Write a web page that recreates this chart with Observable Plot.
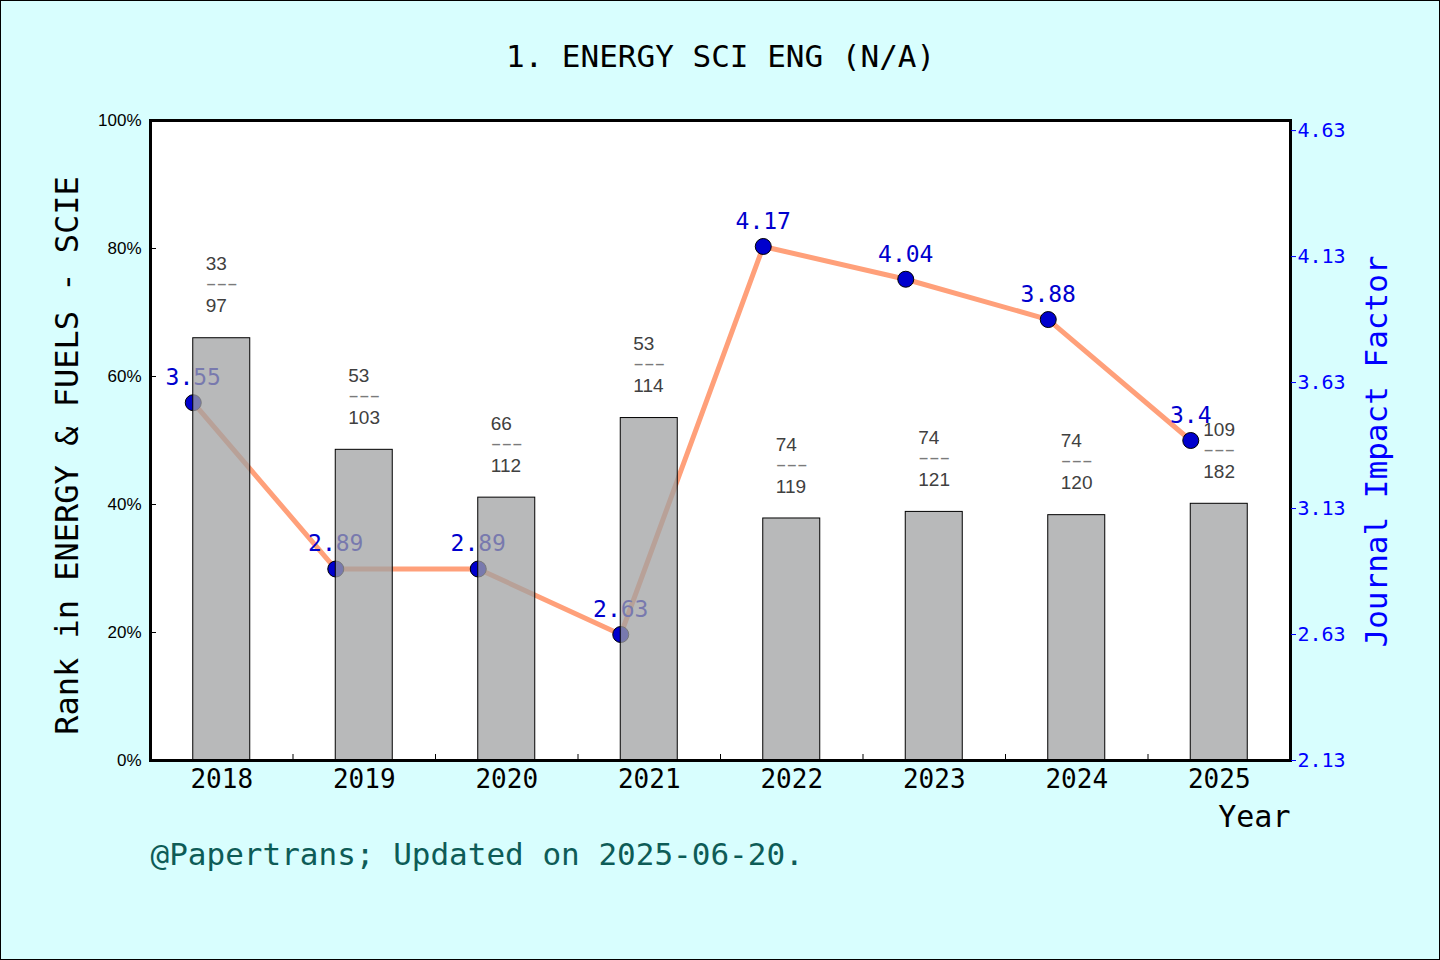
<!DOCTYPE html>
<html>
<head>
<meta charset="utf-8">
<script src="https://cdn.jsdelivr.net/npm/d3@7"></script>
<script src="https://cdn.jsdelivr.net/npm/@observablehq/plot@0.6"></script>
<style>
  html, body { margin: 0; padding: 0; background: #d8fefe; }
  #wrap { position: relative; width: 1440px; height: 960px; background: #d8fefe; overflow: hidden; }
  #wrap svg { position: absolute; left: 0; top: 0; background: transparent; }
  #border { position: absolute; left: 0; top: 0; width: 1440px; height: 960px; box-sizing: border-box; border: 1px solid #000; pointer-events: none; }
</style>
</head>
<body>
<div id="wrap"><div id="chart"></div><div id="border"></div></div>
<script>
// ---- data ----
const years = [2018, 2019, 2020, 2021, 2022, 2023, 2024, 2025];
const ranks = [33, 53, 66, 53, 74, 74, 74, 109];
const totals = [97, 103, 112, 114, 119, 121, 120, 182];
const impactFactors = [3.55, 2.89, 2.89, 2.63, 4.17, 4.04, 3.88, 3.4];
const leftTicks = [0, 20, 40, 60, 80, 100];
const rightTicks = [2.13, 2.63, 3.13, 3.63, 4.13, 4.63];
const ifAxisRange = [2.13, 4.67];
const titleText = "1. ENERGY SCI ENG (N/A)";
const leftTitle = "Rank in ENERGY & FUELS - SCIE";
const rightTitle = "Journal Impact Factor";
const xTitle = "Year";
const footer = "@Papertrans; Updated on 2025-06-20.";

// ---- derived table ----
const toY = v => (v - ifAxisRange[0]) / (ifAxisRange[1] - ifAxisRange[0]) * 100;
const fromY = p => ifAxisRange[0] + p / 100 * (ifAxisRange[1] - ifAxisRange[0]);
const table = years.map((year, i) => ({
  year,
  rank: ranks[i],
  total: totals[i],
  pct: (1 - ranks[i] / totals[i]) * 100,
  jif: impactFactors[i],
  jifY: toY(impactFactors[i])
}));

const mono = "DejaVu Sans Mono";
const sans = "Liberation Sans";
const step = 1140 / 8;
const half = step / 2 * 0.4; // offset from band center to bar's left edge
const boundary = step / 2;

const chart = Plot.plot({
  width: 1440,
  height: 960,
  marginLeft: 150,
  marginRight: 150,
  marginTop: 120,
  marginBottom: 200,
  style: { background: "transparent", fontFamily: sans },
  x: { type: "band", domain: years, paddingInner: 0.6, paddingOuter: 0.3, round: false },
  y: { domain: [0, 100] },
  marks: [
    Plot.frame({ fill: "white" }),
    Plot.line(table, { x: "year", y: "jifY", dx: -half, stroke: "#FFA07A", strokeWidth: 5 }),
    Plot.dot(table, { x: "year", y: "jifY", dx: -half, r: 8, fill: "#0000CD", stroke: "black", strokeWidth: 1 }),
    Plot.text(table, { x: "year", y: "jifY", dx: -half, dy: -25, text: d => String(d.jif), fill: "#0000CD", fontSize: 23, fontFamily: mono }),
    Plot.barY(table, { x: "year", y: "pct", fill: "rgb(160,161,163)", fillOpacity: 0.75, stroke: "black", strokeWidth: 1 }),
    Plot.text(table, { x: "year", y: "pct", dx: -16, dy: -74, text: d => String(d.rank), textAnchor: "start", fill: "#404040", fontSize: 19, fontFamily: sans }),
    Plot.text(table, { x: "year", y: "pct", dx: -16, dy: -54, text: () => "---", textAnchor: "start", fill: "#7a7a7a", fontSize: 19, fontFamily: sans }),
    Plot.text(table, { x: "year", y: "pct", dx: -16, dy: -32, text: d => String(d.total), textAnchor: "start", fill: "#404040", fontSize: 19, fontFamily: sans }),
    // inner ticks
    Plot.tickY(leftTicks, { y: d => d, insetRight: 1134, stroke: "black" }),
    Plot.tickX(years.slice(1), { x: d => d, dx: -boundary, insetTop: 634, stroke: "black" }),
    Plot.frame({ stroke: "black", strokeWidth: 3 }),
    // axes
    Plot.axisY(leftTicks, { anchor: "left", tickSize: 0, tickPadding: 9, tickFormat: d => d + "%", fontSize: 17, fontFamily: sans, label: null }),
    Plot.axisX({ tickSize: 0, tickPadding: 9, tickFormat: d => String(d), fontSize: 26, fontFamily: mono, label: null }),
    Plot.axisY(rightTicks.map(toY), { anchor: "right", tickSize: 5, tickPadding: 2, tickFormat: v => fromY(v).toFixed(2), color: "#0000FF", fontSize: 20, fontFamily: mono, label: null }),
    // titles
    Plot.text([titleText], { text: d => d, frameAnchor: "top", dy: -63, lineAnchor: "middle", fontSize: 31, fontFamily: mono, fill: "black" }),
    Plot.text([leftTitle], { text: d => d, frameAnchor: "left", dx: -83, dy: 15, rotate: -90, textAnchor: "middle", lineAnchor: "middle", fontSize: 32, fontFamily: mono, fill: "black" }),
    Plot.text([rightTitle], { text: d => d, frameAnchor: "right", dx: 87, dy: 11, rotate: -90, textAnchor: "middle", lineAnchor: "middle", fontSize: 31, fontFamily: mono, fill: "#0000FF" }),
    Plot.text([xTitle], { text: d => d, frameAnchor: "bottom-right", dy: 57, textAnchor: "end", lineAnchor: "middle", fontSize: 30, fontFamily: mono, fill: "black" }),
    Plot.text([footer], { text: d => d, frameAnchor: "bottom-left", dy: 95, textAnchor: "start", lineAnchor: "middle", fontSize: 31, fontFamily: mono, fill: "#0d5c57" })
  ]
});

document.getElementById("chart").appendChild(chart);

// stretch the "---" separators to the reference width
d3.select(chart).selectAll("text").filter(function () { return this.textContent === "---"; })
  .attr("textLength", 32).attr("lengthAdjust", "spacingAndGlyphs");
</script>
</body>
</html>
